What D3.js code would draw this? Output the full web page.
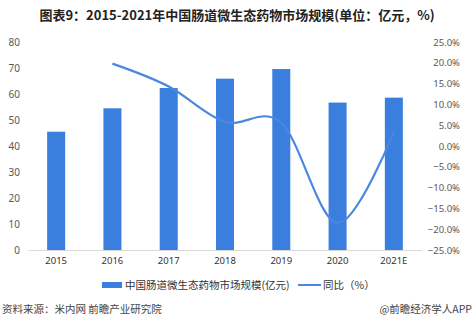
<!DOCTYPE html>
<html>
<head>
<meta charset="utf-8">
<script src="https://cdn.jsdelivr.net/npm/d3@7"></script>
<style>
  html, body { margin: 0; padding: 0; background: #fff; }
  svg { display: block; font-family: "Noto Sans CJK SC", "Noto Sans", sans-serif; }
</style>
</head>
<body>
<svg id="chart" width="474" height="322"></svg>
<script>
// Market size (亿元) and year-on-year growth (%)
const years = ["2015", "2016", "2017", "2018", "2019", "2020", "2021E"];
const marketSize = [45.5, 54.5, 62.3, 65.9, 69.6, 56.7, 58.6];
const growthYears = ["2016", "2017", "2018", "2019", "2020", "2021E"];
const growthPct = [19.8, 14.3, 5.8, 5.6, -18.5, 3.4];
const leftTicks = [0, 10, 20, 30, 40, 50, 60, 70, 80];
const rightTicks = [-25, -20, -15, -10, -5, 0, 5, 10, 15, 20, 25];

const title = "图表9：2015-2021年中国肠道微生态药物市场规模(单位：亿元，%)";
const barLegend = "中国肠道微生态药物市场规模(亿元)";
const lineLegend = "同比（%）";
const source = "资料来源：米内网 前瞻产业研究院";
const brand = "@前瞻经济学人APP";

const blue = "#3b7fde";
const lineBlue = "#4a87e0";
const tickColor = "#595959";

const svg = d3.select("#chart");
const plot = { left: 28, right: 422, top: 42, bottom: 250 };

const x = d3.scaleBand().domain(years).range([plot.left, plot.right]).paddingInner(0.68).paddingOuter(0.34);
const yL = d3.scaleLinear().domain([0, 80]).range([plot.bottom, plot.top]);
const yR = d3.scaleLinear().domain([-25, 25]).range([plot.bottom, plot.top]);

// Title
svg.append("text")
  .attr("x", 237).attr("y", 20)
  .attr("text-anchor", "middle")
  .attr("font-size", 13).attr("font-weight", "bold").attr("fill", "#222")
  .text(title);

// Left axis
const axL = svg.append("g").attr("transform", `translate(${plot.left},0)`)
  .call(d3.axisLeft(yL).tickValues(leftTicks).tickSize(0).tickPadding(8));
axL.select(".domain").remove();
axL.selectAll("text").attr("font-size", 10).attr("fill", tickColor)
  .style("font-family", "'Noto Sans', sans-serif");

// Right axis
const axR = svg.append("g").attr("transform", `translate(460,0)`)
  .call(d3.axisLeft(yR).tickValues(rightTicks).tickSize(0).tickPadding(0)
    .tickFormat(d => d3.format(".1f")(d) + "%"));
axR.select(".domain").remove();
axR.selectAll("text").attr("font-size", 9.5).attr("fill", tickColor)
  .style("font-family", "'Noto Sans', sans-serif");

// Bars
svg.append("g").selectAll("rect").data(years).join("rect")
  .attr("x", d => x(d))
  .attr("width", x.bandwidth())
  .attr("y", (d, i) => yL(marketSize[i]))
  .attr("height", (d, i) => yL(0) - yL(marketSize[i]))
  .attr("fill", blue);

// Bottom axis
const axB = svg.append("g").attr("transform", `translate(0,${plot.bottom})`)
  .call(d3.axisBottom(x).tickSize(0).tickPadding(7));
axB.select(".domain").attr("stroke", "#d9d9d9");
axB.selectAll("text").attr("font-size", 9.5).attr("fill", "#333")
  .style("font-family", "'Noto Sans', sans-serif");

// Growth line (smoothed)
const line = d3.line()
  .x((d, i) => x(growthYears[i]) + x.bandwidth() / 2)
  .y(d => yR(d))
  .curve(d3.curveCatmullRom.alpha(0));
svg.append("path").datum(growthPct)
  .attr("d", line)
  .attr("fill", "none").attr("stroke", lineBlue).attr("stroke-width", 2.2);

// Legend
const lg = svg.append("g");
lg.append("rect").attr("x", 102).attr("y", 282).attr("width", 20).attr("height", 6).attr("fill", blue);
lg.append("text").attr("x", 125).attr("y", 289).attr("font-size", 10.5).attr("fill", "#333").text(barLegend);
lg.append("line").attr("x1", 298).attr("x2", 321).attr("y1", 285).attr("y2", 285)
  .attr("stroke", lineBlue).attr("stroke-width", 2);
lg.append("text").attr("x", 323).attr("y", 289).attr("font-size", 10.5).attr("fill", "#333").text(lineLegend);

// Footer
svg.append("text").attr("x", 2).attr("y", 313).attr("font-size", 10.5).attr("fill", "#444").text(source);
svg.append("circle").attr("cx", 391).attr("cy", 309).attr("r", 0).attr("fill", "none");
svg.append("text").attr("x", 472).attr("y", 313).attr("text-anchor", "end")
  .attr("font-size", 10.5).attr("fill", "#444").text(brand);
</script>
</body>
</html>
